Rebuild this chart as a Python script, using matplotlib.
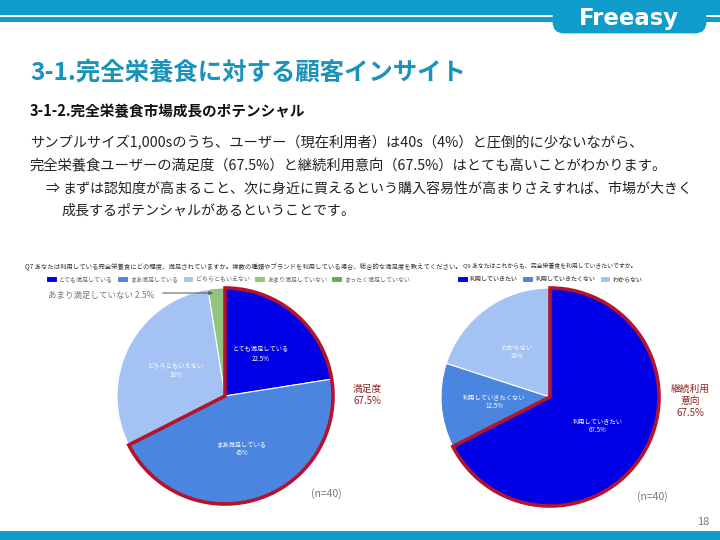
import matplotlib
matplotlib.use("Agg")
import matplotlib.pyplot as plt
from matplotlib.patches import FancyBboxPatch, Rectangle

plt.rcParams['font.family'] = ['Noto Sans CJK JP', 'DejaVu Sans']

# Chart data
q7_title = "Q7 あなたは利用している完全栄養食にどの程度、満足されていますか。複数の種類やブランドを利用している場合、総合的な満足度を教えてください。"
q7_cats = ["とても満足している", "まあ満足している", "どちらともいえない", "あまり満足していない", "まったく満足していない"]
q7_vals = [22.5, 45, 30, 2.5, 0]
q7_pct = ["22.5%", "45%", "30%", "", ""]

q9_title = "Q9 あなたはこれからも、完全栄養食を利用していきたいですか。"
q9_cats = ["利用していきたい", "利用していきたくない", "わからない"]
q9_vals = [67.5, 12.5, 20]
q9_pct = ["67.5%", "12.5%", "20%"]

q7_highlight = [67.5, 32.5]
q9_highlight = [67.5, 32.5]

colors = ["#0000e6", "#4a86e0", "#a4c2f4", "#93c47d", "#6aa84f"]
BLUE = "#0f9ccb"
RED = "#b5122b"
DARKRED = "#8c2323"
GRAY = "#777777"
W, H = 720, 540


def draw_pie(center, r, vals, cats, pct, highlight, title, title_x, title_size, legend_x):
    """Pie placed by pixel centre, with the red outline on the highlighted share."""
    cx, cy = center
    ax = fig.add_axes([(cx - r) / W, 1 - (cy + r) / H, 2 * r / W, 2 * r / H])
    ax.patch.set_alpha(0)
    labels = [f"{c}\n{p}" if p else "" for c, p in zip(cats, pct)]
    wedges, texts = ax.pie(vals, colors=colors[:len(vals)], startangle=90, counterclock=False,
                           labels=labels, labeldistance=0.51,
                           wedgeprops=dict(edgecolor="white", linewidth=0.8),
                           textprops=dict(color="white", fontsize=4.5, linespacing=1.15))
    for t in texts:
        t.set_ha("center")
        t.set_va("center")
    outline, _ = ax.pie(highlight, startangle=90, counterclock=False, colors=["none", "none"])
    outline[0].set_edgecolor(RED)
    outline[0].set_linewidth(2.6)
    outline[0].set_joinstyle("miter")
    outline[1].set_visible(False)
    ax.set_xlim(-1, 1)
    ax.set_ylim(-1, 1)
    bg.text(title_x, 266, title, fontsize=title_size, color="#333333", va="center", ha="left")
    leg = bg.legend(wedges, cats, loc="center left", bbox_to_anchor=(legend_x / W, 1 - 279 / H),
                    bbox_transform=fig.transFigure, ncol=len(cats), frameon=False, fontsize=4.3,
                    labelcolor="#666666", handlelength=1.8, handleheight=1.1, handletextpad=0.4,
                    columnspacing=0.7, borderpad=0, borderaxespad=0)
    bg.add_artist(leg)


fig = plt.figure(figsize=(7.2, 5.4), dpi=100)
bg = fig.add_axes([0, 0, 1, 1])
bg.set_xlim(0, W)
bg.set_ylim(H, 0)
bg.axis("off")
bg.set_zorder(5)  # arrow and texts stay above the pies

# Header, logo tab and footer
bg.add_patch(Rectangle((0, 0), W, 22, color=BLUE, lw=0))
bg.add_patch(Rectangle((0, 15), W, 2.2, color="white", lw=0))
bg.add_patch(FancyBboxPatch((554, -10), 151, 42, boxstyle="round,pad=0,rounding_size=10",
                            mutation_aspect=1, facecolor=BLUE, edgecolor=BLUE, lw=2))
bg.text(629, 18, "Freeasy", color="white", fontsize=16.4, fontweight="bold",
        family=["DejaVu Sans"], ha="center", va="center")
bg.add_patch(Rectangle((0, 531), W, 9, color=BLUE, lw=0))
bg.text(703, 522, "18", fontsize=8, color=GRAY, ha="center", va="center")

# Headings and body text
bg.text(30, 72, "3-1.完全栄養食に対する顧客インサイト", fontsize=17.6, fontweight="bold",
        color="#1a93bb", va="center")
bg.text(30, 111, "3-1-2.完全栄養食市場成長のポテンシャル", fontsize=10.5, fontweight="bold",
        color="#111111", va="center")
bg.text(30, 143, "サンプルサイズ1,000sのうち、ユーザー（現在利用者）は40s（4%）と圧倒的に少ないながら、",
        fontsize=10.3, color="#222222", va="center")
bg.text(30, 166, "完全栄養食ユーザーの満足度（67.5%）と継続利用意向（67.5%）はとても高いことがわかります。",
        fontsize=10.3, color="#222222", va="center")
bg.text(45, 189, "⇒", fontsize=10.1, color="#222222", va="center")
bg.text(62, 189, "まずは認知度が高まること、次に身近に買えるという購入容易性が高まりさえすれば、市場が大きく",
        fontsize=10.1, color="#222222", va="center")
bg.text(62, 211, "成長するポテンシャルがあるということです。", fontsize=10.1, color="#222222", va="center")

# Charts
draw_pie((225, 396), 108, q7_vals, q7_cats, q7_pct, q7_highlight, q7_title, 25, 4.55, 46)
draw_pie((550, 397), 109, q9_vals, q9_cats, q9_pct, q9_highlight, q9_title, 463, 4.25, 457)

# Annotations
bg.text(48, 295, "あまり満足していない 2.5%", fontsize=6.1, color=GRAY, va="center")
bg.annotate("", xy=(216, 293), xytext=(160, 293),
            arrowprops=dict(arrowstyle="-|>", color="#666666", lw=0.8, mutation_scale=6))
bg.text(367, 395, "満足度\n67.5%", fontsize=7, color=DARKRED, ha="center", va="center", linespacing=1.3)
bg.text(690, 401, "継続利用\n意向\n67.5%", fontsize=7, color=DARKRED, ha="center", va="center", linespacing=1.3)
bg.text(326, 494, "(n=40)", fontsize=7.5, color=GRAY, ha="center", va="center")
bg.text(652, 497, "(n=40)", fontsize=7.5, color=GRAY, ha="center", va="center")

fig.savefig("out.png", dpi=100)
